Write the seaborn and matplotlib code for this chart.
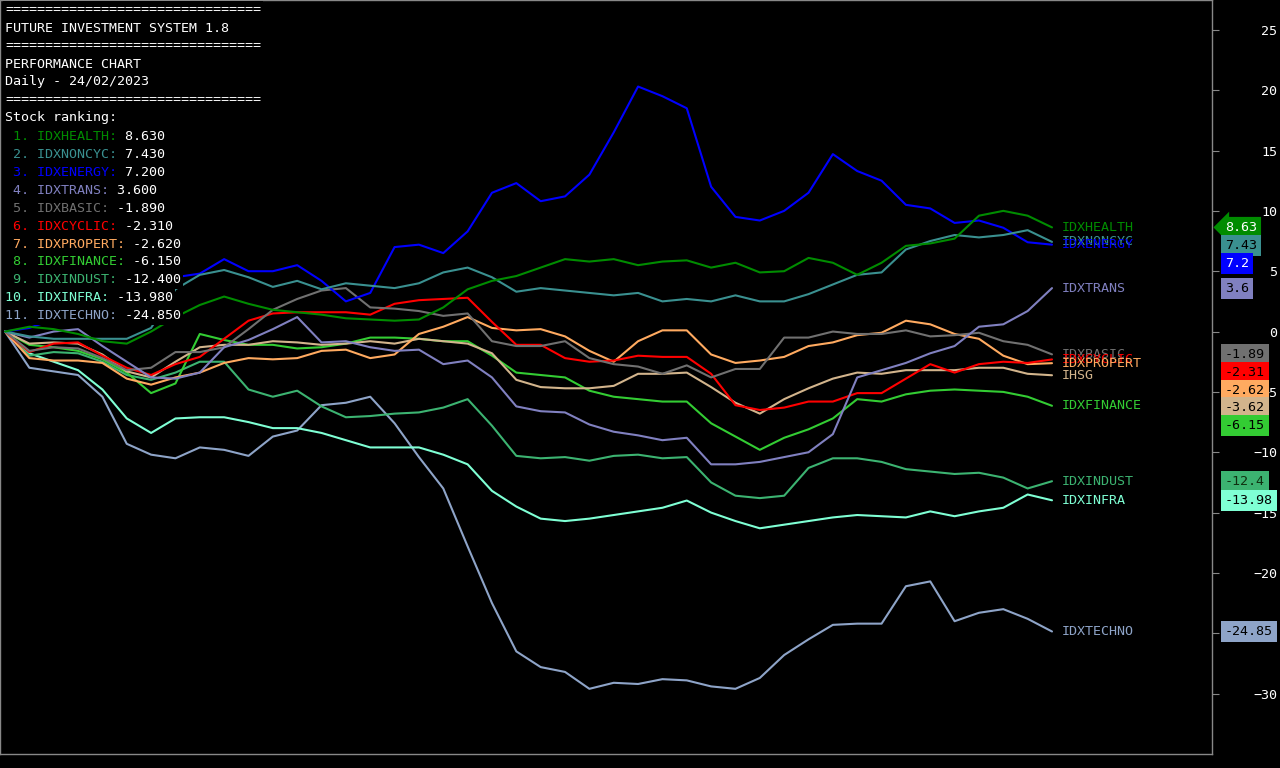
import numpy as np
import pandas as pd
import matplotlib
matplotlib.use('Agg')
import matplotlib.pyplot as plt
import matplotlib.transforms as mtransforms
import seaborn as sns

# performance (%) per index, sampled along the period
names = ['IDXHEALTH', 'IDXNONCYC', 'IDXENERGY', 'IDXTRANS', 'IDXBASIC', 'IDXCYCLIC',
         'IDXPROPERT', 'IHSG', 'IDXFINANCE', 'IDXINDUST', 'IDXINFRA', 'IDXTECHNO']
colors = ['#008c00', '#3a9090', '#0000ff', '#8080c0', '#707070', '#ff0000',
          '#ffaa60', '#d2b48c', '#33cc33', '#3cb371', '#7fffd4', '#8ea4c8']

health = [0, 0.4, 0.2, -0.2, -0.8, -1.0, 0, 1.2, 2.2, 2.9, 2.3, 1.8, 1.6, 1.4, 1.1, 1.0, 0.9, 1.0, 2.0, 3.5, 4.2, 4.6,
          5.3, 6.0, 5.8, 6.0, 5.5, 5.8, 5.9, 5.3, 5.7, 4.9, 5.0, 6.1, 5.7, 4.7, 5.7, 7.1, 7.3, 7.7, 9.6, 10.0, 9.6, 8.63]
noncyc = [0, -0.4, -0.6, -0.6, -0.6, -0.6, 0.3, 3.5, 4.7, 5.1, 4.5, 3.7, 4.2, 3.5, 4.0, 3.8, 3.6, 4.0, 4.9, 5.3, 4.5, 3.3,
          3.6, 3.4, 3.2, 3.0, 3.2, 2.5, 2.7, 2.5, 3.0, 2.5, 2.5, 3.1, 3.9, 4.7, 4.9, 6.8, 7.5, 8.0, 7.8, 8.0, 8.4, 7.43]
energy = [0, 0.3, 1.0, 2.0, 3.0, 3.5, 4.0, 4.5, 4.8, 6.0, 5.0, 5.0, 5.5, 4.2, 2.5, 3.2, 7.0, 7.2, 6.5, 8.3, 11.5, 12.3,
          10.8, 11.2, 13.0, 16.5, 20.3, 19.5, 18.5, 12.0, 9.5, 9.2, 10.0, 11.5, 14.7, 13.3, 12.5, 10.5, 10.2, 9.0, 9.2, 8.6, 7.4, 7.2]
trans = [0, -0.5, 0, 0.2, -1.2, -2.5, -3.8, -3.9, -3.4, -1.3, -0.7, 0.2, 1.2, -0.9, -0.8, -1.3, -1.6, -1.5, -2.7, -2.4, -3.8, -6.2,
         -6.6, -6.7, -7.7, -8.3, -8.6, -9.0, -8.8, -11.0, -11.0, -10.8, -10.4, -10.0, -8.5, -3.8, -3.2, -2.6, -1.8, -1.2, 0.4, 0.6, 1.7, 3.6]
basic = [0, -1.6, -1.3, -1.4, -2.2, -3.2, -3.0, -1.7, -1.7, -1.3, 0.2, 1.8, 2.7, 3.4, 3.6, 2.0, 1.9, 1.7, 1.3, 1.5, -0.8, -1.2,
         -1.2, -0.8, -2.2, -2.7, -2.9, -3.5, -2.8, -3.8, -3.1, -3.1, -0.5, -0.5, 0.0, -0.2, -0.2, 0.1, -0.4, -0.3, -0.1, -0.8, -1.1, -1.89]
cyclic = [0, -1.7, -1.0, -0.9, -2.0, -3.0, -3.6, -2.7, -2.1, -0.6, 0.9, 1.5, 1.6, 1.6, 1.6, 1.4, 2.3, 2.6, 2.7, 2.8, 0.8, -1.1,
          -1.1, -2.2, -2.5, -2.4, -2.0, -2.1, -2.1, -3.5, -6.1, -6.5, -6.3, -5.8, -5.8, -5.1, -5.1, -3.9, -2.7, -3.4, -2.7, -2.5, -2.6, -2.31]
propert = [0, -2.2, -2.4, -2.4, -2.6, -3.9, -4.4, -3.8, -3.4, -2.6, -2.2, -2.3, -2.2, -1.6, -1.5, -2.2, -1.9, -0.2, 0.4, 1.2, 0.3, 0.1,
           0.2, -0.4, -1.6, -2.5, -0.8, 0.1, 0.1, -1.9, -2.6, -2.4, -2.1, -1.2, -0.9, -0.3, -0.1, 0.9, 0.6, -0.2, -0.6, -2.0, -2.7, -2.62]
ihsg = [0, -1.0, -0.9, -1.0, -1.9, -3.3, -3.8, -2.5, -1.3, -1.1, -1.1, -0.8, -0.9, -1.1, -1.0, -0.8, -1.0, -0.6, -0.8, -1.0, -1.8, -4.0,
        -4.6, -4.7, -4.7, -4.5, -3.5, -3.5, -3.4, -4.6, -5.9, -6.8, -5.6, -4.7, -3.9, -3.4, -3.5, -3.2, -3.2, -3.2, -3.0, -3.0, -3.5, -3.62]
finance = [0, -1.1, -1.3, -1.6, -2.3, -3.4, -5.1, -4.3, -0.2, -0.7, -1.1, -1.1, -1.4, -1.3, -1.0, -0.5, -0.5, -0.6, -0.8, -0.8, -2.0, -3.4,
           -3.6, -3.8, -4.9, -5.4, -5.6, -5.8, -5.8, -7.6, -8.7, -9.8, -8.8, -8.1, -7.2, -5.6, -5.8, -5.2, -4.9, -4.8, -4.9, -5.0, -5.4, -6.15]
indust = [0, -2.0, -1.7, -1.8, -2.5, -3.6, -4.0, -3.4, -2.5, -2.5, -4.8, -5.4, -4.9, -6.2, -7.1, -7.0, -6.8, -6.7, -6.3, -5.6, -7.8, -10.3,
          -10.5, -10.4, -10.7, -10.3, -10.2, -10.5, -10.4, -12.5, -13.6, -13.8, -13.6, -11.3, -10.5, -10.5, -10.8, -11.4, -11.6, -11.8, -11.7, -12.1, -13.0, -12.4]
infra = [0, -1.8, -2.5, -3.2, -4.8, -7.2, -8.4, -7.2, -7.1, -7.1, -7.5, -8.0, -8.0, -8.4, -9.0, -9.6, -9.6, -9.6, -10.2, -11.0, -13.2, -14.5,
         -15.5, -15.7, -15.5, -15.2, -14.9, -14.6, -14.0, -15.0, -15.7, -16.3, -16.0, -15.7, -15.4, -15.2, -15.3, -15.4, -14.9, -15.3, -14.9, -14.6, -13.5, -13.98]
techno = [0, -3.0, -3.3, -3.6, -5.4, -9.3, -10.2, -10.5, -9.6, -9.8, -10.3, -8.7, -8.2, -6.1, -5.9, -5.4, -7.6, -10.4, -13.0, -17.8, -22.5, -26.5,
          -27.8, -28.2, -29.6, -29.1, -29.2, -28.8, -28.9, -29.4, -29.6, -28.7, -26.8, -25.5, -24.3, -24.2, -24.2, -21.1, -20.7, -24.0, -23.3, -23.0, -23.8, -24.85]

series = [health, noncyc, energy, trans, basic, cyclic, propert, ihsg, finance, indust, infra, techno]
ranking = ['IDXHEALTH', 'IDXNONCYC', 'IDXENERGY', 'IDXTRANS', 'IDXBASIC', 'IDXCYCLIC',
           'IDXPROPERT', 'IDXFINANCE', 'IDXINDUST', 'IDXINFRA', 'IDXTECHNO']
finals = [8.63, 7.43, 7.2, 3.6, -1.89, -2.31, -2.62, -3.62, -6.15, -12.4, -13.98, -24.85]
box_text = ['white', 'black', 'white', 'black', 'black', 'black', 'black', 'black', 'black', '#103010', 'black', 'black']

df = pd.concat([pd.DataFrame({'day': np.arange(len(s)), 'pct': s, 'name': n}) for n, s in zip(names, series)])
palette = dict(zip(names, colors))

sns.set_style('dark')
plt.rcParams['font.family'] = ['DejaVu Sans Mono']
fs = 9.6

fig = plt.figure(figsize=(12.8, 7.68), dpi=100, facecolor='black')
ax = fig.add_axes([0.0, 14 / 768, 1212 / 1280, 1 - 14 / 768])
ax.set_facecolor('black')

sns.lineplot(data=df, x='day', y='pct', hue='name', palette=palette, hue_order=names[::-1],
             linewidth=1.5, legend=False, ax=ax)

px = 43 / 1047  # data units per pixel along x
ax.set_xlim(-5 * px, 1207 * px)
ax.set_ylim(-35.0, 27.47)
ax.set_xlabel('')
ax.set_ylabel('')
ax.set_xticks([])
ax.yaxis.tick_right()
ax.set_yticks(range(-30, 30, 5))
ax.tick_params(axis='y', colors='#888888', length=5, pad=42, labelsize=fs, labelcolor='white')
for lab in ax.get_yticklabels():
    lab.set_horizontalalignment('right')
ax.grid(False)
for side, sp in ax.spines.items():
    sp.set_visible(True)
    sp.set_color('#888888')
    sp.set_linewidth(1)

# series names at the line ends
for n, c, s in zip(names, colors, series):
    ax.text(len(s) - 1 + 10 * px, s[-1], n, color=c, fontsize=fs, va='center', ha='left')

# value tags on the axis, pushed apart so they do not overlap
trans_b = mtransforms.blended_transform_factory(ax.transAxes, ax.transData)
order = np.argsort(finals)[::-1]
prev = None
for i in order:
    y = finals[i] if prev is None else min(finals[i], prev - 1.48)
    prev = y
    style = 'larrow,pad=0.3' if i == 0 else 'square,pad=0.3'
    ax.text(1 + 13 / 1207, y, f'{finals[i]:g}', transform=trans_b, fontsize=fs, va='center', ha='left',
            color=box_text[i], bbox=dict(boxstyle=style, fc=colors[i], ec='none'), clip_on=False, zorder=5)

# header block, top-left
def put(row, txt, col='white', x0=5):
    fig.text(x0 / 1280, 1 - (10 + row * 18) / 768, txt, color=col, fontsize=fs, va='center', ha='left',
             bbox=dict(fc='black', ec='none', pad=1.5), zorder=10)

sep = '=' * 32
put(0, sep); put(1, 'FUTURE INVESTMENT SYSTEM 1.8'); put(2, sep)
put(3, 'PERFORMANCE CHART'); put(4, 'Daily - 24/02/2023'); put(5, sep)
put(6, 'Stock ranking:')
for k, n in enumerate(ranking):
    c = palette[n]
    head = f'{k + 1:>2}. {n}:'
    val = finals[names.index(n)]
    put(7 + k, head, c)
    put(7 + k, f' {val:.3f}', 'white', x0=5 + 8 * len(head))

fig.savefig('out.png', dpi=100, facecolor='black')
